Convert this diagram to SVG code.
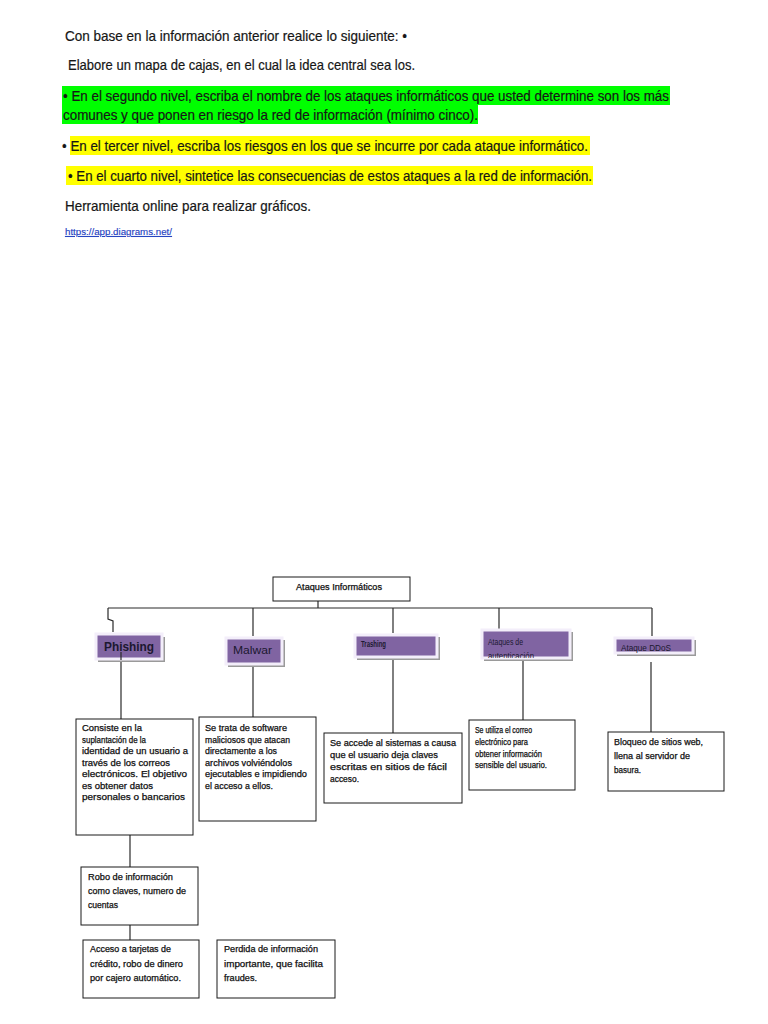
<svg xmlns="http://www.w3.org/2000/svg" width="768" height="1024" viewBox="0 0 768 1024">
<style>
.h{font-family:"Liberation Sans",Arial,sans-serif;font-size:14.5px;fill:#161616;stroke:#161616;stroke-width:0.2}
.t{font-family:"Liberation Sans",Arial,sans-serif;font-size:8.5px;fill:#111111;stroke:#111111;stroke-width:0.25}
.box{fill:#ffffff;stroke:#1a1a1a;stroke-width:1}
.pb{fill:#8064a2;stroke:#f3eefa;stroke-width:3}
.sh{fill:#9a9a9a}
.pl{font-family:"Liberation Sans",Arial,sans-serif;fill:#1c1830}
.c{fill:none;stroke:#2a2a2a;stroke-width:1.2}
</style>
<defs>
<clipPath id="clipAu"><rect x="482" y="630" width="88" height="28"/></clipPath>
</defs>
<rect width="768" height="1024" fill="#ffffff"/>

<g id="instructions">
<rect x="62" y="86" width="608" height="19" fill="#00ff00"/>
<rect x="62" y="105" width="416" height="19" fill="#00ff00"/>
<rect x="70" y="136" width="520" height="19" fill="#ffff00"/>
<rect x="66" y="166" width="527" height="19" fill="#ffff00"/>
<text class="h" x="65" y="41" textLength="342" lengthAdjust="spacingAndGlyphs">Con base en la información anterior realice lo siguiente: •</text>
<text class="h" x="68" y="70" textLength="347" lengthAdjust="spacingAndGlyphs">Elabore un mapa de cajas, en el cual la idea central sea los.</text>
<text class="h" x="63" y="101" textLength="606" lengthAdjust="spacingAndGlyphs">• En el segundo nivel, escriba el nombre de los ataques informáticos que usted determine son los más</text>
<text class="h" x="63" y="120" textLength="415" lengthAdjust="spacingAndGlyphs">comunes y que ponen en riesgo la red de información (mínimo cinco).</text>
<text class="h" x="62" y="151" textLength="526" lengthAdjust="spacingAndGlyphs">• En el tercer nivel, escriba los riesgos en los que se incurre por cada ataque informático.</text>
<text class="h" x="68" y="181" textLength="524" lengthAdjust="spacingAndGlyphs">• En el cuarto nivel, sintetice las consecuencias de estos ataques a la red de información.</text>
<text class="h" x="65" y="211" textLength="246" lengthAdjust="spacingAndGlyphs">Herramienta online para realizar gráficos.</text>
<text x="65" y="235" textLength="107" lengthAdjust="spacingAndGlyphs" style="font-family:'Liberation Sans',Arial,sans-serif;font-size:9.5px;fill:#1f3fbf;stroke:#1f3fbf;stroke-width:0.15;text-decoration:underline">https://app.diagrams.net/</text>
</g>

<g id="connectors">
<polyline class="c" points="318,601 318,608"/>
<polyline class="c" points="108,608 652,608"/>
<polyline class="c" points="108,608 108,619 113,621 113,632"/>
<polyline class="c" points="253,608 253,636"/>
<polyline class="c" points="393,608 393,633"/>
<polyline class="c" points="499,608 499,629"/>
<polyline class="c" points="652,608 652,636"/>
<polyline class="c" points="121,660 121,719"/>
<polyline class="c" points="253,667 253,717"/>
<polyline class="c" points="393,660 393,733"/>
<polyline class="c" points="523,659 523,720"/>
<polyline class="c" points="651,662 651,732"/>
<polyline class="c" points="130,835 130,867"/>
<polyline class="c" points="130,925 130,940"/>
</g>

<g id="root">
<rect class="box" x="273" y="577" width="137" height="24"/>
<text class="t" x="296" y="590" textLength="86" lengthAdjust="spacingAndGlyphs">Ataques Informáticos</text>
</g>

<g id="phishing">
<rect class="sh" x="98" y="637" width="67" height="25"/>
<rect class="pb" x="96" y="634" width="66" height="25"/>
<text class="pl" x="104" y="651" font-size="13.5" font-weight="bold" textLength="50" lengthAdjust="spacingAndGlyphs">Phishing</text>
<line x1="121" y1="652" x2="121" y2="660" stroke="#2a2a2a" stroke-width="1.2"/>
</g>

<g id="malwar">
<rect class="sh" x="228" y="640" width="57" height="27"/>
<rect class="pb" x="226" y="638" width="56" height="26"/>
<text class="pl" x="233" y="654" font-size="11.5" textLength="39" lengthAdjust="spacingAndGlyphs">Malwar</text>
</g>

<g id="trashing">
<rect class="sh" x="357" y="637" width="83" height="23"/>
<rect class="pb" x="355" y="635" width="82" height="22"/>
<text class="pl" x="361" y="647" font-size="9.5" font-weight="bold" textLength="25" lengthAdjust="spacingAndGlyphs">Trashing</text>
</g>

<g id="autenticacion">
<rect class="sh" x="484" y="632" width="89" height="29"/>
<rect class="pb" x="482" y="630" width="88" height="28"/>
<text class="pl" x="488" y="645" font-size="9.5" textLength="35" lengthAdjust="spacingAndGlyphs">Ataques de</text>
<text class="pl" x="488" y="659" font-size="9.5" clip-path="url(#clipAu)" textLength="46" lengthAdjust="spacingAndGlyphs">autenticación</text>
</g>

<g id="ddos">
<rect class="sh" x="617" y="640" width="79" height="16"/>
<rect class="pb" x="615" y="638" width="78" height="15"/>
<text class="pl" x="621" y="651" font-size="8.5" textLength="50" lengthAdjust="spacingAndGlyphs">Ataque DDoS</text>
</g>

<g id="phishing-desc">
<rect class="box" x="76" y="719" width="117" height="116"/>
<text class="t" x="82" y="731" textLength="60" lengthAdjust="spacingAndGlyphs">Consiste en la</text>
<text class="t" x="82" y="742.5" textLength="64" lengthAdjust="spacingAndGlyphs">suplantación de la</text>
<text class="t" x="82" y="754" textLength="106" lengthAdjust="spacingAndGlyphs">identidad de un usuario a</text>
<text class="t" x="82" y="765.5" textLength="88" lengthAdjust="spacingAndGlyphs">través de los correos</text>
<text class="t" x="82" y="777" textLength="105" lengthAdjust="spacingAndGlyphs">electrónicos. El objetivo</text>
<text class="t" x="82" y="788.5" textLength="71" lengthAdjust="spacingAndGlyphs">es obtener datos</text>
<text class="t" x="82" y="800" textLength="103" lengthAdjust="spacingAndGlyphs">personales o bancarios</text>
</g>

<g id="malwar-desc">
<rect class="box" x="199" y="717" width="117" height="104"/>
<text class="t" x="205" y="731" textLength="82" lengthAdjust="spacingAndGlyphs">Se trata de software</text>
<text class="t" x="205" y="742.5" textLength="85" lengthAdjust="spacingAndGlyphs">maliciosos que atacan</text>
<text class="t" x="205" y="754" textLength="72" lengthAdjust="spacingAndGlyphs">directamente a los</text>
<text class="t" x="205" y="765.5" textLength="87" lengthAdjust="spacingAndGlyphs">archivos volviéndolos</text>
<text class="t" x="205" y="777" textLength="102" lengthAdjust="spacingAndGlyphs">ejecutables e impidiendo</text>
<text class="t" x="205" y="788.5" textLength="68" lengthAdjust="spacingAndGlyphs">el acceso a ellos.</text>
</g>

<g id="trashing-desc">
<rect class="box" x="324" y="733" width="138" height="70"/>
<text class="t" x="330" y="746" textLength="126" lengthAdjust="spacingAndGlyphs">Se accede al sistemas a causa</text>
<text class="t" x="330" y="758" textLength="108" lengthAdjust="spacingAndGlyphs">que el usuario deja claves</text>
<text class="t" x="330" y="770" textLength="117" lengthAdjust="spacingAndGlyphs">escritas en sitios de fácil</text>
<text class="t" x="330" y="782" textLength="29" lengthAdjust="spacingAndGlyphs">acceso.</text>
</g>

<g id="autenticacion-desc">
<rect class="box" x="469" y="720" width="106" height="70"/>
<text class="t" x="475" y="733" textLength="57" lengthAdjust="spacingAndGlyphs">Se utiliza el correo</text>
<text class="t" x="475" y="745" textLength="53" lengthAdjust="spacingAndGlyphs">electrónico para</text>
<text class="t" x="475" y="756.5" textLength="67" lengthAdjust="spacingAndGlyphs">obtener información</text>
<text class="t" x="475" y="768" textLength="72" lengthAdjust="spacingAndGlyphs">sensible del usuario.</text>
</g>

<g id="ddos-desc">
<rect class="box" x="608" y="732" width="116" height="59"/>
<text class="t" x="614" y="745" textLength="89" lengthAdjust="spacingAndGlyphs">Bloqueo de sitios web,</text>
<text class="t" x="614" y="759" textLength="76" lengthAdjust="spacingAndGlyphs">llena al servidor de</text>
<text class="t" x="614" y="773" textLength="27" lengthAdjust="spacingAndGlyphs">basura.</text>
</g>

<g id="robo">
<rect class="box" x="81" y="867" width="117" height="58"/>
<text class="t" x="88" y="880" textLength="85" lengthAdjust="spacingAndGlyphs">Robo de información</text>
<text class="t" x="88" y="894" textLength="98" lengthAdjust="spacingAndGlyphs">como claves, numero de</text>
<text class="t" x="88" y="908" textLength="30" lengthAdjust="spacingAndGlyphs">cuentas</text>
</g>

<g id="acceso">
<rect class="box" x="83" y="940" width="116" height="58"/>
<text class="t" x="90" y="952" textLength="81" lengthAdjust="spacingAndGlyphs">Acceso a tarjetas de</text>
<text class="t" x="90" y="967" textLength="93" lengthAdjust="spacingAndGlyphs">crédito, robo de dinero</text>
<text class="t" x="90" y="981" textLength="91" lengthAdjust="spacingAndGlyphs">por cajero automático.</text>
</g>

<g id="perdida">
<rect class="box" x="217" y="940" width="118" height="58"/>
<text class="t" x="224" y="952" textLength="94" lengthAdjust="spacingAndGlyphs">Perdida de información</text>
<text class="t" x="224" y="967" textLength="99" lengthAdjust="spacingAndGlyphs">importante, que facilita</text>
<text class="t" x="224" y="981" textLength="33" lengthAdjust="spacingAndGlyphs">fraudes.</text>
</g>
</svg>
